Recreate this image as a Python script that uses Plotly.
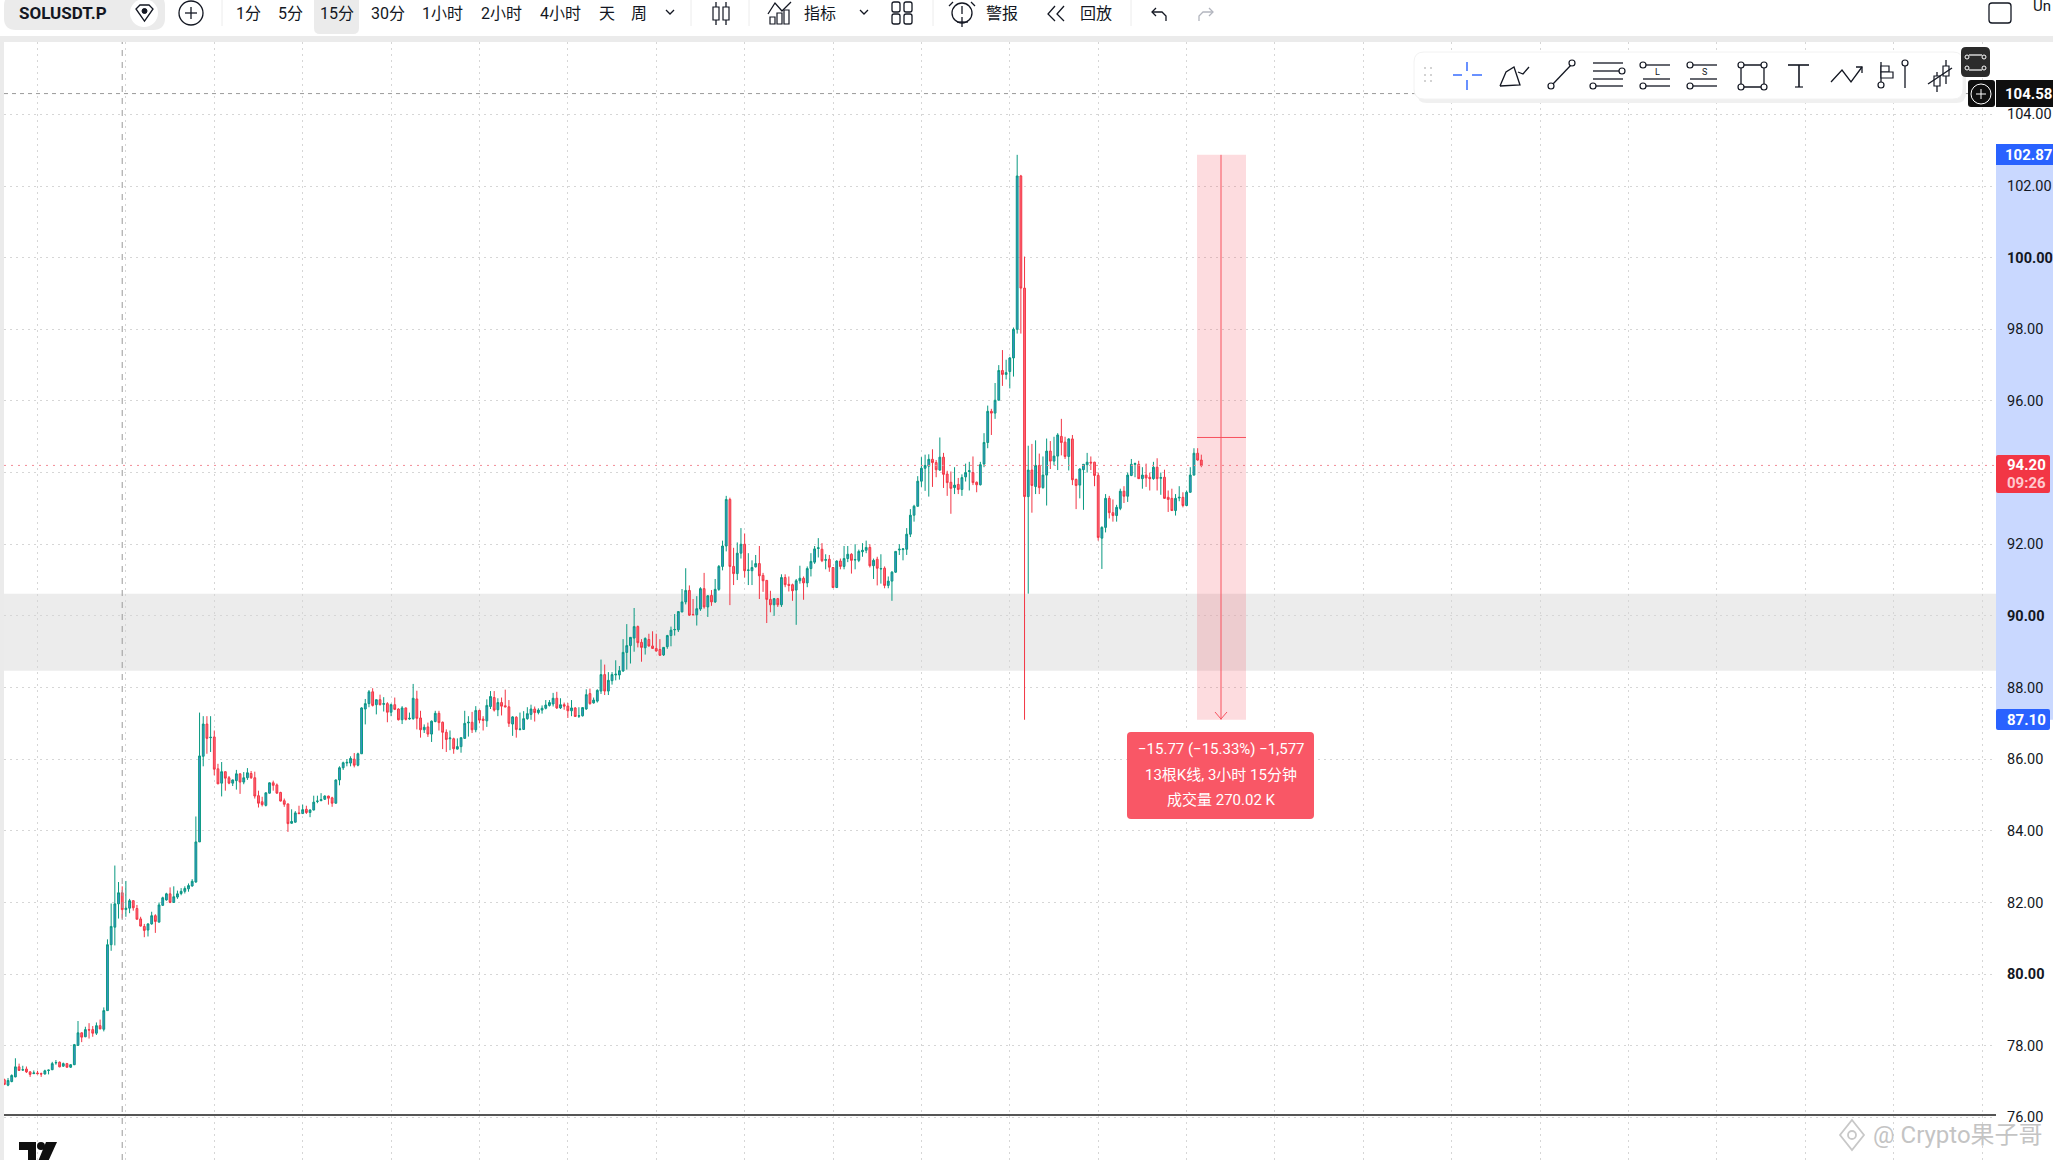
import plotly.graph_objects as go

opens = [
    77.05,76.90,77.00,77.13,77.41,77.32,77.35,77.27,77.22,77.24,
    77.22,77.21,77.31,77.33,77.52,77.54,77.43,77.50,77.40,77.47,
    78.01,78.36,78.25,78.45,78.45,78.35,78.56,78.46,78.98,80.82,
    81.31,81.96,82.27,81.80,81.84,82.05,81.83,81.54,81.33,81.23,
    81.40,81.63,81.45,81.92,82.07,82.24,82.00,82.15,82.25,82.31,
    82.38,82.46,82.57,83.69,86.08,86.98,86.60,86.62,85.73,85.33,
    85.65,85.48,85.33,85.40,85.59,85.36,85.48,85.60,85.48,84.98,
    84.81,84.71,85.05,85.34,85.28,85.07,84.84,84.75,84.21,84.24,
    84.50,84.48,84.60,84.51,84.58,84.82,84.84,84.88,84.97,84.92,
    84.77,85.42,85.76,85.89,85.89,86.00,85.83,86.15,87.40,87.55,
    87.88,87.52,87.66,87.53,87.55,87.31,87.52,87.40,87.10,87.43,
    87.12,87.13,87.68,87.15,86.82,86.90,86.70,87.05,87.28,87.03,
    86.75,86.57,86.57,86.28,86.35,86.58,87.01,87.03,86.82,87.36,
    87.12,87.07,87.47,87.72,87.38,87.58,87.49,87.46,86.98,87.17,
    86.83,86.83,87.13,87.25,87.40,87.30,87.37,87.42,87.50,87.54,
    87.70,87.43,87.52,87.48,87.35,87.43,87.20,87.21,87.40,87.83,
    87.57,87.62,87.90,88.36,87.90,88.19,88.35,88.35,88.46,88.98,
    89.17,89.38,89.70,89.26,89.11,89.34,89.16,89.09,89.06,88.91,
    89.14,89.45,89.61,89.61,90.11,90.39,90.71,90.04,90.03,90.19,
    90.76,90.25,90.57,90.39,90.74,91.38,91.95,93.25,91.38,91.18,
    91.75,92.00,91.27,91.26,91.37,91.46,91.13,90.99,90.46,90.31,
    90.48,90.31,91.07,90.88,90.87,90.72,90.98,91.05,90.92,91.32,
    91.50,91.88,91.86,91.55,91.58,91.35,90.79,91.53,91.38,91.60,
    91.72,91.56,91.55,91.79,91.83,91.91,91.40,91.58,91.31,91.33,
    90.85,90.97,91.22,91.84,91.85,91.86,92.28,92.81,93.06,93.76,
    94.12,94.18,94.37,94.28,94.07,94.43,93.96,93.73,93.58,93.67,
    93.53,93.88,94.03,94.00,93.73,93.66,94.24,94.84,95.71,95.66,
    96.02,96.85,96.74,96.82,97.20,98.00,102.28,99.15,93.33,94.07,
    93.61,94.20,93.58,93.93,94.60,94.32,94.46,95.01,94.85,94.45,
    94.94,93.81,93.65,94.08,94.22,94.29,94.29,93.92,92.17,92.47,
    93.28,92.88,92.80,93.00,93.48,93.34,93.92,94.23,94.23,93.83,
    93.93,93.87,93.83,94.15,93.84,93.87,93.31,93.28,92.94,93.29,
    93.31,93.08,93.45,93.93,94.54,94.35,
]
closes = [
    76.92,77.03,77.17,77.41,77.31,77.33,77.27,77.20,77.24,77.22,
    77.21,77.30,77.32,77.50,77.53,77.41,77.50,77.40,77.47,78.03,
    78.36,78.24,78.45,78.44,78.35,78.56,78.47,78.98,80.82,81.33,
    81.96,82.27,81.80,81.84,82.05,81.85,81.53,81.34,81.22,81.40,
    81.63,81.47,81.93,82.13,82.24,82.00,82.16,82.24,82.31,82.39,
    82.47,82.59,83.69,86.09,86.98,86.58,86.61,85.72,85.31,85.65,
    85.47,85.33,85.42,85.59,85.36,85.48,85.62,85.48,84.97,84.77,
    84.73,85.06,85.34,85.27,85.05,84.83,84.74,84.20,84.26,84.50,
    84.48,84.59,84.51,84.58,84.80,84.83,84.87,84.97,84.91,84.77,
    85.42,85.76,85.90,85.91,86.02,85.83,86.15,87.43,87.55,87.88,
    87.50,87.66,87.52,87.55,87.31,87.52,87.39,87.10,87.43,87.11,
    87.14,87.70,87.14,86.82,86.89,86.70,87.06,87.28,87.02,86.75,
    86.55,86.59,86.29,86.35,86.60,87.00,87.03,86.82,87.36,87.09,
    87.08,87.50,87.75,87.37,87.58,87.48,87.46,87.00,87.18,86.83,
    86.84,87.13,87.27,87.40,87.30,87.37,87.42,87.51,87.58,87.70,
    87.43,87.52,87.48,87.35,87.43,87.19,87.21,87.44,87.80,87.55,
    87.65,87.92,88.36,87.90,88.20,88.36,88.37,88.47,88.98,89.17,
    89.40,89.70,89.25,89.12,89.37,89.16,89.09,89.02,88.90,89.12,
    89.45,89.60,89.62,90.12,90.39,90.71,90.02,90.03,90.20,90.76,
    90.25,90.56,90.39,90.74,91.38,91.95,93.25,91.38,91.18,91.75,
    92.00,91.26,91.28,91.35,91.46,91.12,90.98,90.46,90.31,90.48,
    90.31,91.07,90.87,90.85,90.70,90.98,91.05,90.92,91.32,91.52,
    91.87,91.90,91.54,91.57,91.36,90.79,91.53,91.38,91.60,91.72,
    91.55,91.57,91.80,91.83,91.91,91.40,91.55,91.33,91.32,90.85,
    90.97,91.22,91.80,91.86,91.87,92.28,92.81,93.06,93.76,94.12,
    94.20,94.37,94.28,94.08,94.43,93.95,93.72,93.56,93.65,93.53,
    93.86,94.00,94.05,93.72,93.66,94.22,94.84,95.71,95.66,96.02,
    96.85,96.74,96.79,97.20,98.00,102.28,99.15,93.33,94.07,93.64,
    94.20,93.58,93.93,94.60,94.32,94.46,95.05,94.84,94.45,94.94,
    93.80,93.64,94.10,94.23,94.29,94.27,93.92,92.19,92.47,93.28,
    92.88,92.80,93.03,93.48,93.34,93.93,94.23,94.25,93.83,93.93,
    93.85,93.83,94.15,93.83,93.86,93.28,93.25,92.94,93.28,93.31,
    93.08,93.45,93.93,94.54,94.35,94.20,
]
highs = [
    77.08,77.10,77.20,77.65,77.50,77.44,77.42,77.29,77.31,77.30,
    77.25,77.33,77.33,77.55,77.60,77.56,77.53,77.52,77.49,78.05,
    78.69,78.37,78.53,78.63,78.55,78.65,78.73,79.07,80.97,81.97,
    83.03,82.57,82.45,82.60,82.10,82.05,81.93,81.60,81.40,81.42,
    81.74,81.67,82.00,82.16,82.27,82.42,82.45,82.33,82.40,82.45,
    82.53,82.65,84.40,87.30,87.20,87.20,87.20,86.80,85.87,85.92,
    85.65,85.53,85.43,85.70,85.60,85.64,85.75,85.67,85.65,85.12,
    84.95,85.07,85.35,85.40,85.32,85.09,84.90,84.76,84.60,84.55,
    84.70,84.73,84.70,84.60,84.98,84.98,85.05,84.99,84.98,84.95,
    85.43,85.80,85.93,86.00,86.08,86.17,86.18,87.45,87.68,87.93,
    87.98,87.66,87.80,87.73,87.59,87.55,87.72,87.42,87.48,87.44,
    87.30,88.10,87.91,87.35,86.97,87.02,87.08,87.35,87.35,87.05,
    86.83,86.80,86.60,86.58,86.60,87.35,87.20,87.32,87.48,87.38,
    87.20,87.67,87.90,87.90,87.70,87.72,87.94,87.65,87.20,87.20,
    87.30,87.34,87.45,87.52,87.47,87.42,87.50,87.65,87.65,87.85,
    87.88,87.70,87.58,87.57,87.65,87.45,87.45,87.44,87.95,87.97,
    87.72,87.95,88.78,88.64,88.43,88.43,88.76,88.60,89.35,89.77,
    89.41,90.22,89.73,89.35,89.40,89.50,89.57,89.50,89.35,89.13,
    89.47,89.70,90.05,90.13,90.75,91.33,90.85,90.47,90.55,90.80,
    91.20,90.58,90.72,91.03,91.42,92.10,93.35,93.30,91.90,92.05,
    92.45,92.30,91.75,91.55,91.70,91.95,91.20,91.00,90.70,90.50,
    90.50,91.16,91.16,91.10,90.90,91.03,91.40,91.10,91.38,91.75,
    91.95,92.17,92.03,91.72,91.70,91.36,91.55,91.60,91.95,91.95,
    91.75,92.00,91.85,92.03,92.10,92.00,91.60,91.65,91.72,91.38,
    91.10,91.25,91.80,92.00,91.88,92.45,92.98,93.10,93.90,94.43,
    94.50,94.51,94.65,94.35,94.98,94.55,94.05,94.03,94.15,93.85,
    93.95,94.25,94.30,94.45,93.75,94.30,95.10,95.87,95.78,96.50,
    97.00,97.42,97.15,97.23,98.05,102.87,102.31,100.03,94.75,94.80,
    94.90,94.53,94.45,94.95,94.88,95.00,95.10,95.50,95.00,94.96,
    95.05,93.83,94.12,94.24,94.55,94.45,94.30,94.00,92.50,93.40,
    93.35,93.25,93.10,93.55,93.62,94.00,94.38,94.28,94.33,94.15,
    94.25,94.00,94.30,94.40,94.00,94.08,93.50,93.55,93.40,93.62,
    93.45,93.50,94.15,94.68,94.68,94.50,
]
lows = [
    76.90,76.87,76.98,77.12,77.30,77.30,77.24,77.13,77.21,77.20,
    77.13,77.20,77.20,77.32,77.47,77.40,77.41,77.39,77.38,77.46,
    78.00,78.10,78.24,78.20,78.25,78.30,78.46,78.40,78.98,80.65,
    80.80,81.55,81.55,81.60,81.70,81.77,81.53,81.33,81.03,81.05,
    81.38,81.15,81.45,81.90,82.05,81.98,82.00,82.10,82.20,82.25,
    82.30,82.44,82.55,83.69,85.80,86.15,86.20,85.55,85.31,84.96,
    85.12,85.30,85.25,85.15,85.03,85.30,85.42,85.45,84.90,84.65,
    84.68,84.68,85.04,85.12,85.04,84.82,84.67,83.97,84.20,84.23,
    84.47,84.47,84.47,84.38,84.57,84.77,84.83,84.86,84.73,84.67,
    84.76,85.27,85.70,85.80,85.80,85.77,85.80,86.15,86.97,87.45,
    87.47,87.25,87.50,87.33,87.03,87.20,87.37,87.08,86.98,87.08,
    87.10,87.10,86.83,86.60,86.73,86.62,86.48,87.03,86.80,86.28,
    86.20,86.25,86.15,86.27,86.18,86.58,86.63,86.73,86.75,87.00,
    86.80,86.90,87.40,87.33,87.20,87.22,87.45,86.90,86.65,86.60,
    86.80,86.82,87.10,87.10,87.05,87.25,87.27,87.39,87.47,87.47,
    87.40,87.40,87.38,87.15,87.20,87.18,87.15,87.19,87.38,87.52,
    87.55,87.58,87.82,87.79,87.79,88.08,88.20,88.22,88.44,88.50,
    88.67,89.00,89.12,88.72,88.92,89.14,89.08,89.00,88.88,88.88,
    89.08,89.15,89.45,89.55,90.10,90.32,90.00,90.02,89.73,90.14,
    90.20,89.97,90.28,90.36,90.70,91.27,91.80,90.30,90.86,91.00,
    91.60,91.07,90.86,90.86,91.35,90.47,90.67,89.80,90.10,90.00,
    90.25,90.25,90.80,90.68,90.42,89.75,90.90,90.45,90.80,91.10,
    91.45,91.63,91.50,91.30,91.23,90.78,90.78,91.30,91.30,91.50,
    91.18,91.30,91.50,91.65,91.75,91.35,91.03,90.85,90.90,90.77,
    90.77,90.42,91.20,91.70,91.55,91.70,92.20,92.63,93.05,93.60,
    93.49,93.33,93.60,93.87,94.05,93.57,93.35,92.85,93.40,93.40,
    93.35,93.75,93.50,93.65,93.45,93.64,94.15,94.68,95.05,95.50,
    96.02,96.42,96.60,96.35,96.68,97.88,97.88,87.10,90.62,92.88,
    93.40,93.40,93.55,93.08,94.10,94.20,94.07,94.48,94.38,94.06,
    93.65,92.98,93.28,92.96,94.00,94.07,93.62,92.10,91.31,92.33,
    92.72,92.63,92.63,92.95,93.15,93.18,93.90,93.87,93.83,93.55,
    93.60,93.50,93.80,93.50,93.38,93.27,92.90,92.93,92.80,93.20,
    93.03,93.06,93.44,93.92,94.33,94.15,
]

# 94.00 sits under the red price tag in the original, so its label stays empty
price_ticks = [76, 78, 80, 82, 84, 86, 88, 90, 92, 94, 96, 98, 100, 102, 104]
price_labels = ["76.00", "78.00", "<b>80.00</b>", "82.00", "84.00", "86.00", "88.00", "<b>90.00</b>",
                "92.00", "", "96.00", "98.00", "<b>100.00</b>", "102.00", "104.00"]
timeframes = ["1分", "5分", "15分", "30分", "1小时", "2小时", "4小时", "天", "周"]
timeframe_x = [248, 290, 337, 388, 442, 501, 560, 607, 639]
measure_top = 102.87
measure_bottom = 87.10
measure_mid = 94.98
last_price = 94.20
cross_price = 104.58
cross_bar = 32
zone_top = 90.62
zone_bottom = 88.47
measure_lines = ["−15.77 (−15.33%) −1,577", "13根K线, 3小时 15分钟", "成交量 270.02 K"]

# pixel box of the plot area inside the 2053x1160 page
W, H = 2053, 1160
L, R, T, B = 4, 1996, 42, 1160
BAR = 3.683
FIRST = 4.35


def px(x):
    return (x - L) / (R - L)


def py(y):
    return 1 - (y - T) / (B - T)


def bar_at(x):
    return (x - FIRST) / BAR


shapes = []
notes = []
INK = "#131722"
CJK = "Roboto, 'Noto Sans CJK SC'"


def line(x0, y0, x1, y1, color=INK, w=1.3, dash=None, layer="above"):
    shapes.append(dict(type="line", xref="paper", yref="paper", x0=px(x0), x1=px(x1), y0=py(y0), y1=py(y1),
                       line=dict(color=color, width=w, dash=dash), layer=layer))


def path(points, color=INK, w=1.3, fill=None, close=False, layer="above"):
    d = "M " + " L ".join(f"{px(a):.5f},{py(b):.5f}" for a, b in points)
    if close:
        d += " Z"
    shapes.append(dict(type="path", xref="paper", yref="paper", path=d, fillcolor=fill or "rgba(0,0,0,0)",
                       line=dict(color=color, width=w), layer=layer))


def circle(cx, cy, r, color=INK, w=1.3, fill=None):
    shapes.append(dict(type="circle", xref="paper", yref="paper", x0=px(cx - r), x1=px(cx + r), y0=py(cy + r), y1=py(cy - r),
                       fillcolor=fill or "rgba(0,0,0,0)", line=dict(color=color, width=w)))


def box(x0, y0, x1, y1, fill, r=0, color=None, w=0, layer="above"):
    if r:
        a, b, c, e = px(x0), px(x1), py(y0), py(y1)
        rx, ry = r / (R - L), r / (B - T)
        d = (f"M {a + rx},{c} L {b - rx},{c} Q {b},{c} {b},{c - ry} L {b},{e + ry} Q {b},{e} {b - rx},{e} "
             f"L {a + rx},{e} Q {a},{e} {a},{e + ry} L {a},{c - ry} Q {a},{c} {a + rx},{c} Z")
        shapes.append(dict(type="path", xref="paper", yref="paper", path=d, fillcolor=fill,
                           line=dict(color=color or fill, width=w), layer=layer))
    else:
        shapes.append(dict(type="rect", xref="paper", yref="paper", x0=px(x0), x1=px(x1), y0=py(y0), y1=py(y1),
                           fillcolor=fill, line=dict(color=color or fill, width=w), layer=layer))


def text(x, y, s, size=15, color=INK, anchor="center", family=CJK):
    notes.append(dict(xref="paper", yref="paper", x=px(x), y=py(y), text=s, showarrow=False, xanchor=anchor, yanchor="middle",
                      font=dict(family=family, size=size, color=color), borderpad=0))


# frame around the chart
box(0, 36, W, 42, "#ebebeb", layer="below")
box(0, 36, 4, H, "#ebebeb", layer="below")

# axis strip between the measured prices
shapes.append(dict(type="rect", xref="paper", yref="y", x0=1, x1=px(W), y0=measure_bottom, y1=measure_top,
                   fillcolor="#c9d8ff", line=dict(width=0), layer="below"))
# grey zone
shapes.append(dict(type="rect", xref="paper", yref="y", x0=0, x1=1, y0=zone_bottom, y1=zone_top,
                   fillcolor="#ececec", line=dict(width=0), layer="below"))

# last price and crosshair
shapes.append(dict(type="line", xref="paper", yref="y", x0=0, x1=1, y0=last_price, y1=last_price,
                   line=dict(color="#f28b96", width=1, dash="2px,5px")))
shapes.append(dict(type="line", xref="paper", yref="y", x0=0, x1=1, y0=cross_price, y1=cross_price,
                   line=dict(color="#9a9a9a", width=1, dash="4px,4px")))
shapes.append(dict(type="line", xref="x", yref="paper", x0=cross_bar, x1=cross_bar, y0=0, y1=1,
                   line=dict(color="#9a9a9a", width=1, dash="6px,6px")))
line(4, 1115, 1996, 1115, "#555555", 2)

# measure tool
m0, m1 = bar_at(1197), bar_at(1246)
mc = bar_at(1221)
shapes.append(dict(type="rect", xref="x", yref="y", x0=m0, x1=m1, y0=measure_bottom, y1=measure_top,
                   fillcolor="rgba(247,82,95,0.2)", line=dict(width=0)))
shapes.append(dict(type="line", xref="x", yref="y", x0=mc, x1=mc, y0=measure_bottom, y1=measure_top,
                   line=dict(color="#f7525f", width=1)))
shapes.append(dict(type="line", xref="x", yref="y", x0=m0, x1=m1, y0=measure_mid, y1=measure_mid,
                   line=dict(color="#f7525f", width=1)))
path([(1215, 712), (1221, 719), (1227, 712)], "#f7525f", 1)
box(1127, 732, 1314, 819, "#f95766", r=4)
for row, s in zip([749, 775, 800], measure_lines):
    text(1221, row, s, 15, "#ffffff")

# axis tags
box(1996, 80, W, 107, "#0f0f0f")
text(2028, 94, "<b>104.58</b>", 15, "#ffffff", family="Roboto")
box(1968, 80, 1995, 107, "#0f0f0f", r=3)
circle(1981, 94, 10, "#ffffff", 1)
line(1976, 94, 1986, 94, "#ffffff", 1)
line(1981, 89, 1981, 99, "#ffffff", 1)
box(1996, 144, W, 165, "#2962ff")
text(2028, 155, "<b>102.87</b>", 15, "#ffffff", family="Roboto")
box(1996, 709, 2050, 730, "#2962ff", r=2)
text(2026, 720, "<b>87.10</b>", 15, "#ffffff", family="Roboto")
box(1996, 455, 2050, 493, "#f23645", r=2)
text(2026, 465, "<b>94.20</b>", 15, "#ffffff", family="Roboto")
text(2026, 483, "<b>09:26</b>", 15, "#ffc9ce", family="Roboto")

# top toolbar
box(4, -6, 165, 30, "#ebebeb", r=12)
text(63, 13, "<b>SOLUSDT.P</b>", 17, INK)
circle(144, 13, 14, "#ffffff", 0, "#ffffff")
path([(136, 9), (140, 5), (149, 5), (153, 9), (144.5, 21)], INK, 1.3, close=True)
circle(144.5, 11, 2.5, INK, 1, INK)
circle(191, 13, 12)
line(185, 13, 197, 13)
line(191, 7, 191, 19)
for sx in [222, 691, 749, 933, 1131]:
    line(sx, 0, sx, 26, "#ececec", 1)
box(314, -6, 359, 34, "#ebebeb", r=6)
for tx, s in zip(timeframe_x, timeframes):
    text(tx, 13, s, 16)
path([(666, 10), (670, 14), (674, 10)])
line(716, 2, 716, 25)
line(726, 2, 726, 25)
box(713, 7, 719, 20, "#ffffff", color=INK, w=1.2)
box(723, 7, 729, 20, "#ffffff", color=INK, w=1.2)
path([(768, 14), (775, 3), (782, 11), (791, 2)])
box(770, 17, 775, 24, "#ffffff", color=INK, w=1.2)
box(777, 13, 782, 24, "#ffffff", color=INK, w=1.2)
box(784, 10, 789, 24, "#ffffff", color=INK, w=1.2)
text(820, 13, "指标", 16)
path([(860, 10), (864, 14), (868, 10)])
for gx in [896, 908]:
    for gy in [7, 19]:
        box(gx - 4, gy - 5, gx + 4, gy + 5, "#ffffff", r=2, color=INK, w=1.3)
circle(962, 13, 10)
line(962, 6, 962, 14)
line(957, 22, 968, 22)
line(962, 17, 962, 27)
path([(949, 6), (953, 2)])
path([(971, 2), (975, 6)])
text(1002, 13, "警报", 16)
path([(1055, 6), (1048, 14), (1055, 21)])
path([(1064, 6), (1057, 14), (1064, 21)])
text(1096, 13, "回放", 16)
path([(1156, 8), (1152, 12), (1156, 16)])
path([(1152, 12), (1162, 12), (1166, 16), (1166, 21)])
path([(1209, 8), (1213, 12), (1209, 16)], "#b2b5be")
path([(1213, 12), (1203, 12), (1199, 16), (1199, 21)], "#b2b5be")
box(1989, 3, 2011, 23, "#ffffff", r=3, color=INK, w=1.3)
text(2042, 6, "Un", 15)

# floating drawing toolbar
box(1417, 57, 1966, 103, "#f0f0f0", r=10)
box(1414, 52, 1963, 99, "#ffffff", r=10, color="#f2f2f2", w=1)
box(1961, 47, 1990, 77, "#2b2b2b", r=5)
for a, b in [(1967, 57), (1984, 57), (1967, 68), (1984, 68)]:
    shapes.append(dict(type="circle", xref="paper", yref="paper", x0=px(a - 2), x1=px(a + 2), y0=py(b + 2), y1=py(b - 2),
                       fillcolor="#2b2b2b", line=dict(color="#ffffff", width=1)))
line(1969, 55, 1982, 55, "#ffffff", 1.2)
line(1969, 70, 1982, 70, "#ffffff", 1.2)
for dx in [1425, 1431]:
    for dy in [68, 75, 81]:
        circle(dx, dy, 1, "#c4c4c4", 0, "#c4c4c4")
line(1467, 62, 1467, 71, "#2962ff", 1.4)
line(1467, 80, 1467, 90, "#2962ff", 1.4)
line(1453, 75, 1462, 75, "#2962ff", 1.4)
line(1472, 75, 1482, 75, "#2962ff", 1.4)
path([(1500, 86), (1506, 72), (1514, 67), (1520, 85), (1500, 86)])
path([(1518, 72), (1523, 74), (1529, 67)])
line(1552, 85, 1572, 64)
circle(1551, 86, 3, INK, 1.2, "#ffffff")
circle(1572, 63, 3, INK, 1.2, "#ffffff")
for ly in [63, 71, 79]:
    line(1593, ly, 1623, ly)
line(1593, 86, 1623, 86)
circle(1593, 86, 3, INK, 1.2, "#ffffff")
circle(1622, 71, 3, INK, 1.2, "#ffffff")
for ox, lab in [(1657, "L"), (1704, "S")]:
    line(ox - 14, 65, ox + 13, 65)
    line(ox - 14, 79, ox + 13, 79)
    line(ox - 14, 86, ox + 13, 86)
    circle(ox - 14, 65, 3, INK, 1.2, "#ffffff")
    circle(ox - 14, 86, 3, INK, 1.2, "#ffffff")
    text(ox, 72, lab, 9)
path([(1741, 65), (1764, 65), (1764, 87), (1741, 87)], close=True)
for a, b in [(1741, 65), (1764, 65), (1741, 87), (1764, 87)]:
    circle(a, b, 3, INK, 1.2, "#ffffff")
line(1788, 65, 1809, 65, INK, 1.6)
line(1799, 65, 1799, 87, INK, 1.6)
line(1795, 87, 1803, 87, INK, 1.2)
path([(1831, 82), (1842, 70), (1851, 82), (1862, 67)])
path([(1856, 67), (1862, 67), (1862, 73)])
line(1881, 62, 1881, 88)
box(1881, 66, 1889, 72, "#ffffff", color=INK, w=1.2)
box(1881, 72, 1893, 78, "#ffffff", color=INK, w=1.2)
circle(1881, 85, 3, INK, 1.2, "#ffffff")
line(1905, 66, 1905, 88)
circle(1905, 63, 3, INK, 1.2, "#ffffff")
line(1937, 72, 1937, 92)
box(1934, 76, 1940, 86, "#ffffff", color=INK, w=1.2)
line(1946, 60, 1946, 84)
box(1943, 66, 1949, 76, "#ffffff", color=INK, w=1.2)
line(1928, 84, 1952, 68)

# logo and watermark
path([(19, 1142), (36, 1142), (36, 1164), (28, 1164), (28, 1150), (19, 1150)], "#0f0f0f", 0, "#0f0f0f", True)
circle(41, 1146, 4, "#0f0f0f", 0, "#0f0f0f")
path([(46, 1142), (57, 1142), (47, 1164), (37, 1164)], "#0f0f0f", 0, "#0f0f0f", True)
path([(1852, 1120), (1864, 1135), (1852, 1150), (1840, 1135)], "#c8c8c8", 1.8, close=True)
circle(1852, 1135, 4, "#c8c8c8", 1.8)
text(1872, 1135, "@ Crypto果子哥", 24, "#c4c4c4", "left")

fig = go.Figure(go.Candlestick(
    x=list(range(len(opens))),
    open=opens,
    high=highs,
    low=lows,
    close=closes,
    increasing=dict(line=dict(color="#089981", width=1), fillcolor="#3d8fd0"),
    decreasing=dict(line=dict(color="#f23645", width=1), fillcolor="#ff6b7b"),
    whiskerwidth=0,
    hoverinfo="skip",
    showlegend=False,
))

fig.update_layout(
    width=W,
    height=H,
    margin=dict(l=L, r=W - R, t=T, b=0),
    paper_bgcolor="#ffffff",
    plot_bgcolor="rgba(0,0,0,0)",
    font=dict(family="Roboto", color=INK),
    shapes=shapes,
    annotations=notes,
    xaxis=dict(
        range=[bar_at(L), bar_at(R)],
        rangeslider=dict(visible=False),
        tickvals=list(range(9, 560, 24)),
        showticklabels=False,
        ticks="",
        showgrid=True,
        gridcolor="#d6d6d6",
        griddash="2px,4px",
        gridwidth=1,
        zeroline=False,
        showline=False,
    ),
    yaxis=dict(
        side="right",
        range=[74.81, 106.02],
        tickvals=price_ticks,
        ticktext=price_labels,
        tickfont=dict(family="Roboto", size=14.5, color="#131722"),
        ticks="",
        ticklabelstandoff=10,
        showgrid=True,
        gridcolor="#d6d6d6",
        griddash="2px,4px",
        gridwidth=1,
        zeroline=False,
        showline=False,
    ),
)

fig.write_html("out.html", config=dict(displayModeBar=False),
               post_script="document.body.style.margin='0';document.body.style.overflow='hidden';")
